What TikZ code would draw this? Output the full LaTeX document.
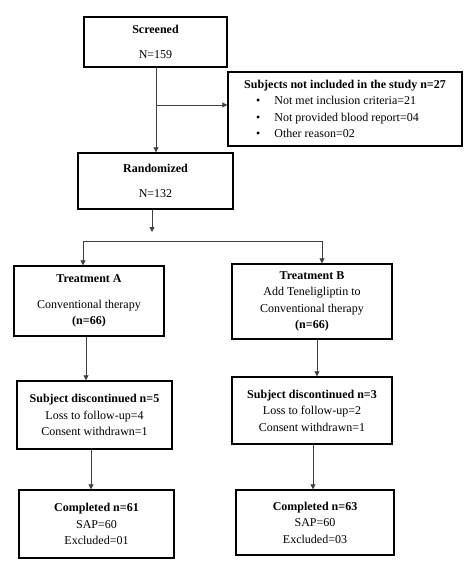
\documentclass[tikz,border=0pt]{standalone}
\usepackage{fontspec}
\setmainfont{Liberation Serif}
\usetikzlibrary{arrows.meta}
\begin{document}
\begin{tikzpicture}[x=1pt,y=-1pt,
  box/.style={draw=black, line width=1.4pt, inner sep=2pt, align=center,
    font=\fontsize{12}{16.5}\selectfont},
  arr/.style={draw=black!75, line width=0.8pt, -{Triangle[width=5pt,length=5pt]}},
  ln/.style={draw=black!75, line width=0.8pt}]
\useasboundingbox (0,0) rectangle (474,568);
\fill[white] (0,0) rectangle (474,568);

\node[box, minimum width=143pt, minimum height=50pt] (scr) at (155.5,42)
  {\textbf{Screened}\\[8.5pt]N=159};
\node[box, minimum width=234pt, minimum height=74pt, align=left] (sub) at (345,109)
  {\textbf{Subjects not included in the study n=27}\\
   \hspace*{12pt}\textbullet\hspace{14pt}Not met inclusion criteria=21\\
   \hspace*{12pt}\textbullet\hspace{14pt}Not provided blood report=04\\
   \hspace*{12pt}\textbullet\hspace{14pt}Other reason=02};
\node[box, minimum width=155pt, minimum height=56pt] (rand) at (155.5,181)
  {\textbf{Randomized}\\[9pt]N=132};
\node[box, minimum width=150pt, minimum height=70pt] (ta) at (89,301)
  {\textbf{Treatment A}\\[9pt]Conventional therapy\\\textbf{(n=66)}};
\node[box, minimum width=160pt, minimum height=75pt] (tb) at (312,301.5)
  {\textbf{Treatment B}\\Add Teneligliptin to\\Conventional therapy\\\textbf{(n=66)}};
\node[box, minimum width=155pt, minimum height=68pt] (da) at (94.5,415)
  {\textbf{Subject discontinued n=5}\\Loss to follow-up=4\\Consent withdrawn=1};
\node[box, minimum width=160pt, minimum height=67pt] (db) at (312,410.5)
  {\textbf{Subject discontinued n=3}\\Loss to follow-up=2\\Consent withdrawn=1};
\node[box, minimum width=155pt, minimum height=68pt] (ca) at (96.5,524)
  {\textbf{Completed n=61}\\SAP=60\\Excluded=01};
\node[box, minimum width=158pt, minimum height=65pt] (cb) at (315,522.5)
  {\textbf{Completed n=63}\\SAP=60\\Excluded=03};

\coordinate (br) at (156,105);
\coordinate (sp) at (152,232);
\coordinate (la) at (83,241);
\coordinate (lb) at (322,241);
\coordinate (xa1) at (86,0);
\coordinate (xb1) at (317,0);
\coordinate (xa2) at (91,0);
\coordinate (xb2) at (313,0);

\draw[arr] (br |- scr.south) -- (br |- rand.north);
\draw[arr] (br) -- (br -| sub.west);
\draw[arr] (sp |- rand.south) -- (sp);
\draw[ln] (la) -- (lb);
\draw[arr] (la) -- (la |- ta.north);
\draw[arr] (lb) -- (lb |- tb.north);
\draw[arr] (xa1 |- ta.south) -- (xa1 |- da.north);
\draw[arr] (xb1 |- tb.south) -- (xb1 |- db.north);
\draw[arr] (xa2 |- da.south) -- (xa2 |- ca.north);
\draw[arr] (xb2 |- db.south) -- (xb2 |- cb.north);
\end{tikzpicture}
\end{document}
